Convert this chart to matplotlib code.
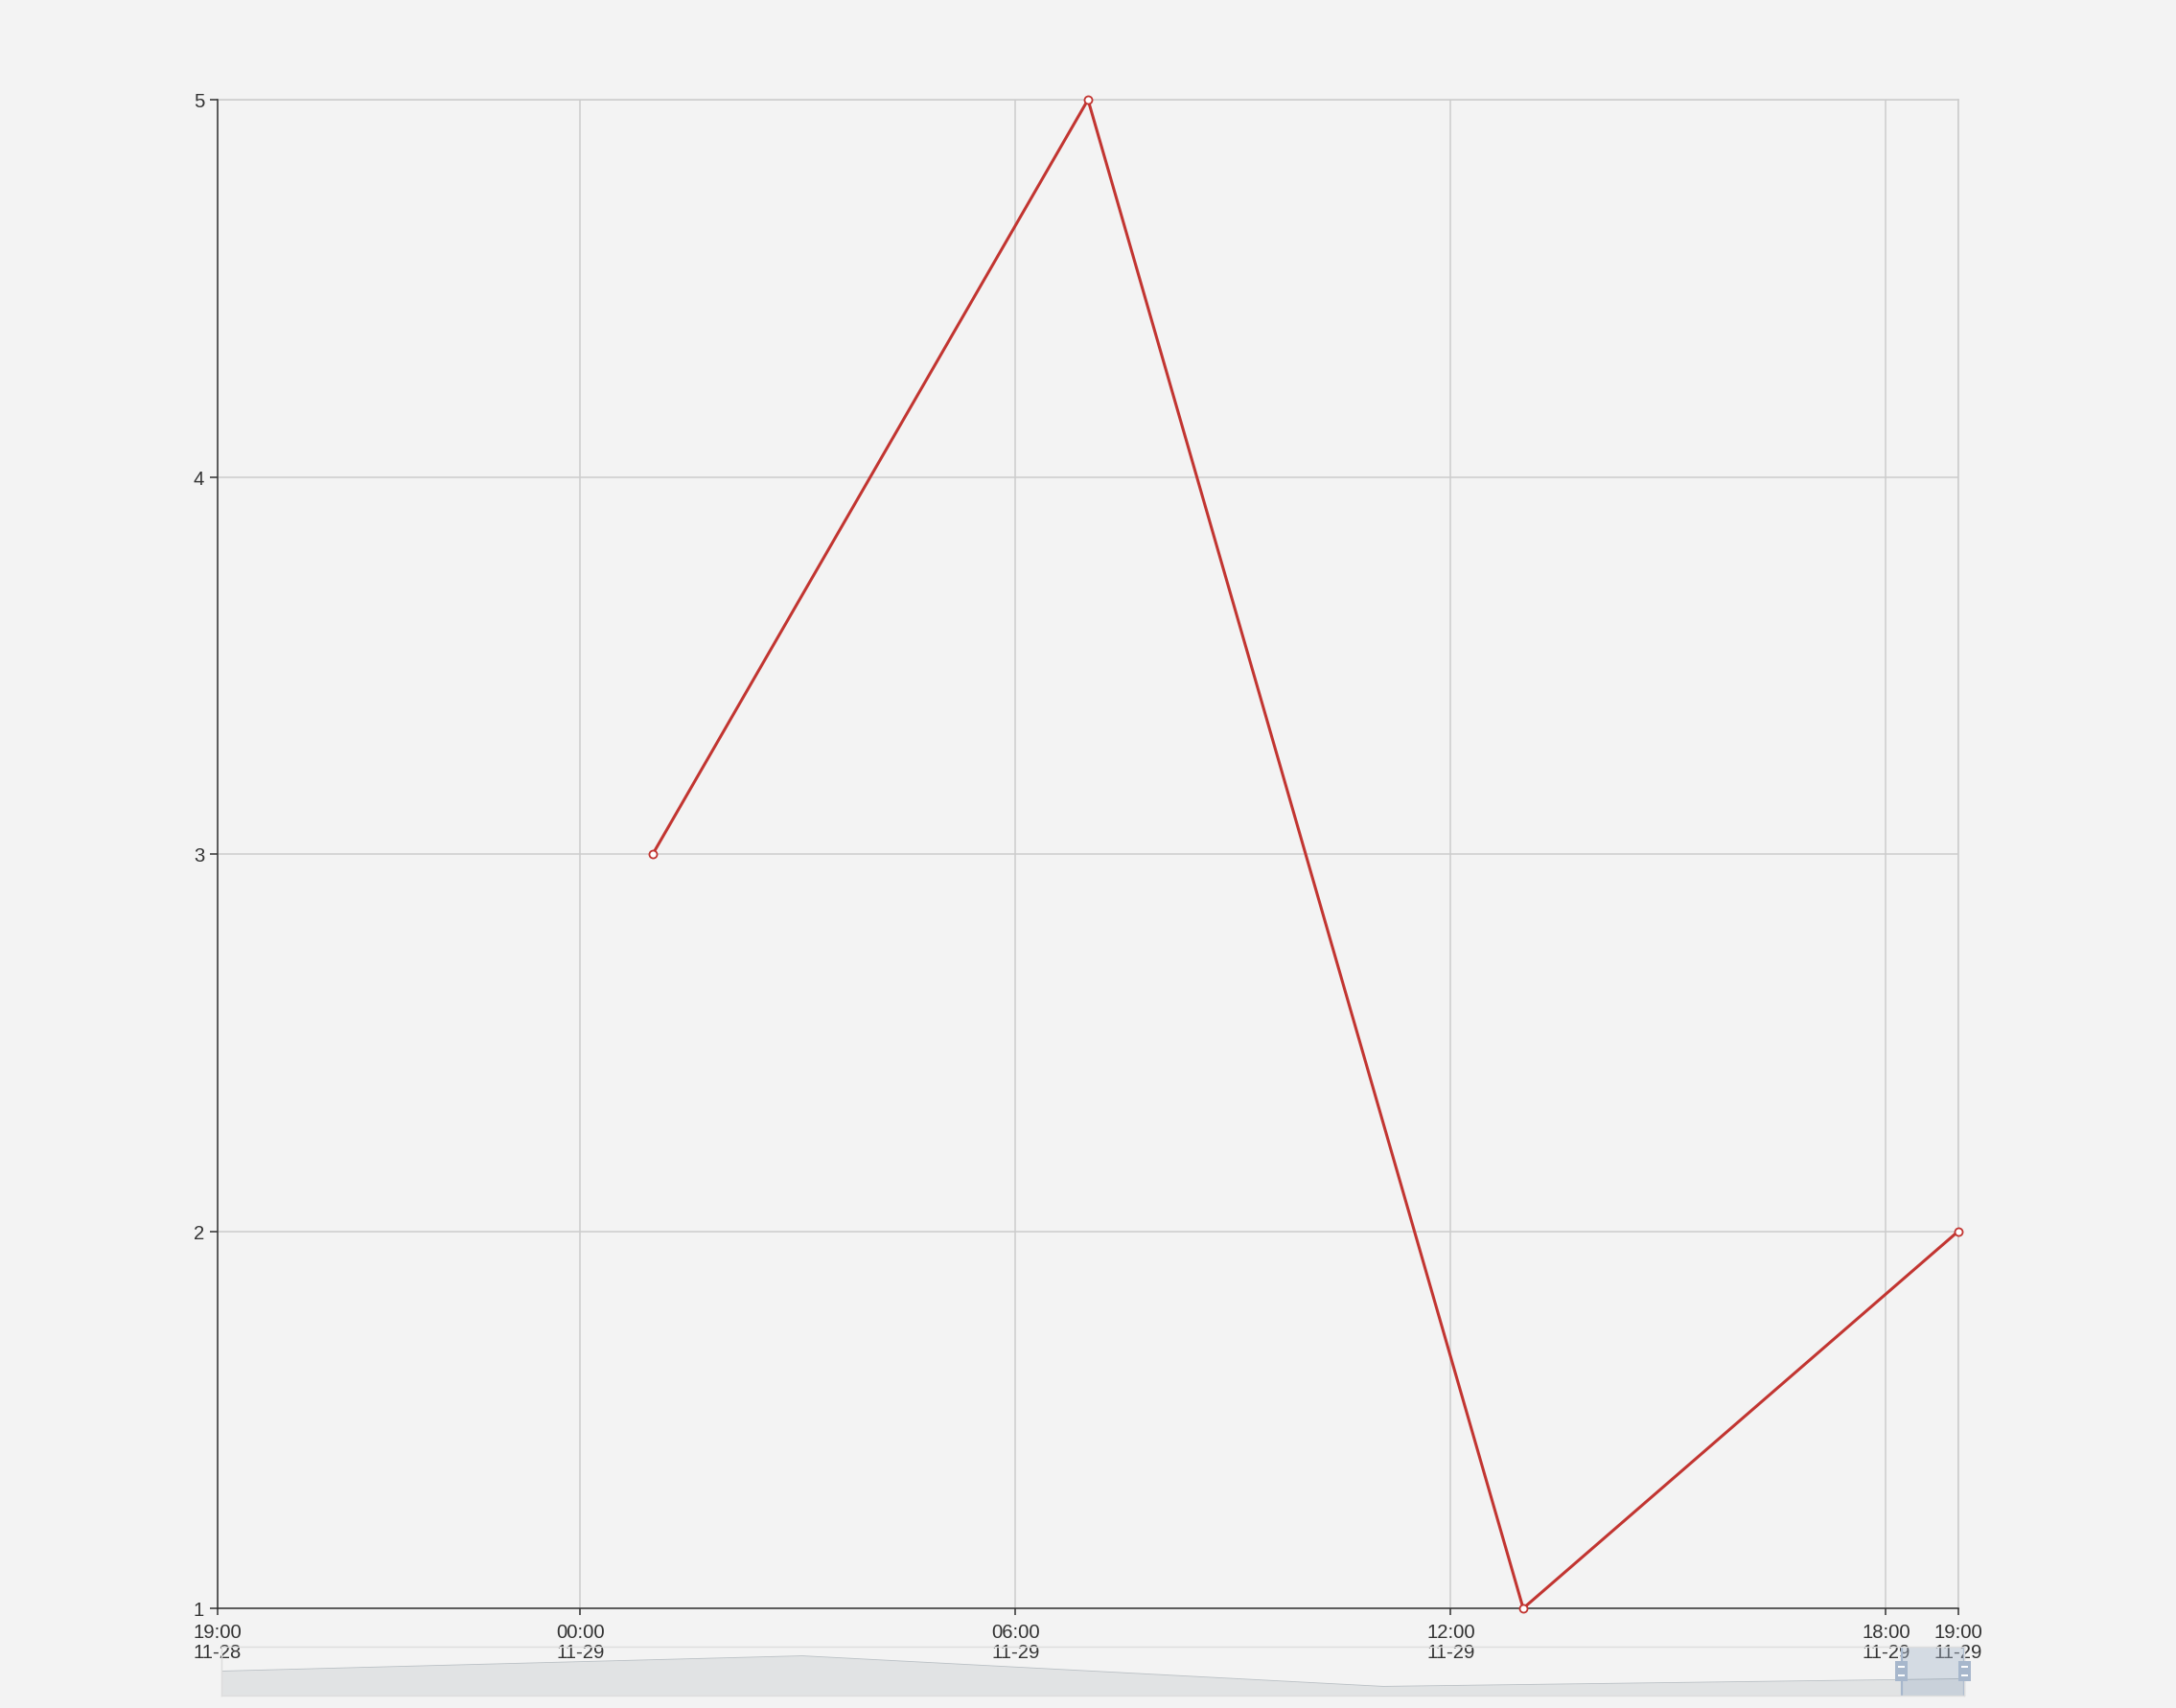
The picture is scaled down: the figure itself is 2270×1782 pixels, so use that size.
import matplotlib
matplotlib.use("Agg")
import matplotlib.pyplot as plt
import matplotlib.dates as mdates
from matplotlib.patches import Rectangle
from datetime import datetime

# ---- data ----
times = ["2024-11-29 01:00", "2024-11-29 07:00", "2024-11-29 13:00", "2024-11-29 19:00"]
values = [3, 5, 1, 2]
x_range = ["2024-11-28 19:00", "2024-11-29 19:00"]
x_ticks = ["2024-11-28 19:00", "2024-11-29 00:00", "2024-11-29 06:00",
           "2024-11-29 12:00", "2024-11-29 18:00", "2024-11-29 19:00"]
y_ticks = [1, 2, 3, 4, 5]
zoom_start_pct = 96.4
zoom_end_pct = 100.0

fmt = "%Y-%m-%d %H:%M"
t = [datetime.strptime(s, fmt) for s in times]
xr = [datetime.strptime(s, fmt) for s in x_range]
xt = [datetime.strptime(s, fmt) for s in x_ticks]

W, H = 2270, 1783
DPI = 100
BG = "#f3f3f3"
RED = "#c23531"
TXT = "#333333"
GRID = "#cccccc"
FS = 14.6

plt.rcParams["font.family"] = ["Liberation Sans", "DejaVu Sans"]

fig = plt.figure(figsize=(W / DPI, H / DPI), dpi=DPI, facecolor=BG)

# ---- main axes ----
L, R, T, B = 227, 2043, 105, 1679
ax = fig.add_axes([L / W, 1 - B / H, (R - L) / W, (B - T) / H])
ax.set_facecolor(BG)
ax.set_xlim(xr[0], xr[1])
ax.set_ylim(min(y_ticks), max(y_ticks))
ax.set_xticks(xt)
ax.set_xticklabels([d.strftime("%H:%M") + "\n" + d.strftime("%m-%d") for d in xt],
                   fontsize=FS, color=TXT, linespacing=1.12)
ax.set_yticks(y_ticks)
ax.set_yticklabels([str(v) for v in y_ticks], fontsize=FS, color=TXT)
ax.tick_params(axis="x", length=5.2, width=1.1, color=TXT, pad=5.5)
ax.tick_params(axis="y", length=6, width=1.1, color=TXT, pad=4)
ax.grid(True, color=GRID, linewidth=1.1)
ax.set_axisbelow(True)
for s in ["top", "right"]:
    ax.spines[s].set_color(GRID)
    ax.spines[s].set_linewidth(1.1)
    ax.spines[s].set_zorder(0.5)
for s in ["left", "bottom"]:
    ax.spines[s].set_color(TXT)
    ax.spines[s].set_linewidth(1.1)

ax.plot(t, values, color=RED, linewidth=2.2, zorder=3, clip_on=False,
        marker="o", markersize=5.8, markerfacecolor="white",
        markeredgecolor=RED, markeredgewidth=1.3)

# ---- dataZoom slider ----
SL, SR, ST, SB = 231, 2049, 1719, 1770
axs = fig.add_axes([SL / W, 1 - SB / H, (SR - SL) / W, (SB - ST) / H])
axs.set_facecolor("none")
idx = list(range(len(values)))
pad = (max(values) - min(values)) * 0.3
ylo, yhi = min(values) - pad, max(values) + pad
axs.set_xlim(0, len(values) - 1)
axs.set_ylim(ylo, yhi)
axs.set_xticks([])
axs.set_yticks([])
for s in axs.spines.values():
    s.set_color("#dddddd")
    s.set_linewidth(1.0)
axs.fill_between(idx, values, ylo, color="#2f4554", alpha=0.09, linewidth=0)
axs.plot(idx, values, color="#2f4554", alpha=0.3, linewidth=0.6)

x0 = (len(values) - 1) * zoom_start_pct / 100
x1 = (len(values) - 1) * zoom_end_pct / 100
axs.axvspan(x0, x1, color="#a7b7cc", alpha=0.4, linewidth=0)

px_x = (len(values) - 1) / (SR - SL)
px_y = (yhi - ylo) / (SB - ST)
ymid = (ylo + yhi) / 2
for xh in (x0, x1):
    axs.plot([xh, xh], [ylo, yhi], color="#a7b7cc", linewidth=1.6,
             clip_on=False, solid_capstyle="butt")
    axs.add_patch(Rectangle((xh - 6.5 * px_x, ymid - 10.5 * px_y), 13 * px_x, 21 * px_y,
                            facecolor="#a7b7cc", edgecolor="none", clip_on=False, zorder=4))
    for dy in (-4.5, 4.5):
        axs.plot([xh - 3.5 * px_x, xh + 3.5 * px_x], [ymid + dy * px_y] * 2,
                 color="white", linewidth=1.4, clip_on=False, zorder=5,
                 solid_capstyle="butt")

fig.savefig("out.png", dpi=DPI, facecolor=BG)
